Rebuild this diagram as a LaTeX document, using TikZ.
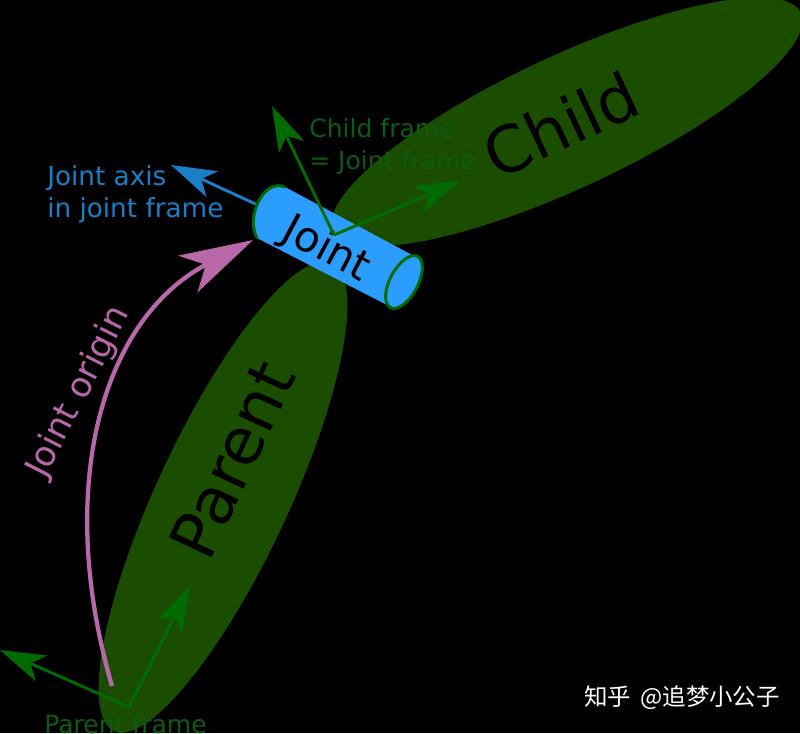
\documentclass[tikz,border=0pt]{standalone}
\usepackage{fontspec}
\setmainfont{DejaVu Sans}
\newfontfamily\cjk{Noto Sans CJK SC}
\usetikzlibrary{arrows.meta}
\definecolor{limb}{HTML}{1A4D00}
\definecolor{frameg}{HTML}{006B00}
\definecolor{labelg}{HTML}{0D5A12}
\definecolor{jointblue}{HTML}{2A9DFF}
\definecolor{axisblue}{HTML}{1A7FC4}
\definecolor{pinkish}{HTML}{B868A8}
\tikzset{
  limbshape/.style={fill=limb,draw=none},
  framearrow/.style={draw=frameg,line width=2.2pt,-{Stealth[length=34pt,width=21pt,inset=9pt]}},
  lbl/.style={inner sep=0pt,font=\fontsize{18.8}{24}\selectfont,align=left,anchor=west},
  big/.style={inner sep=0pt,text=black}
}
\begin{document}
\begin{tikzpicture}[x=0.75pt,y=-0.75pt]
\path[use as bounding box,fill=black] (0,0) rectangle (800,733);
\begin{scope}
\clip (0,0) rectangle (800,733);
\fill[limbshape,rotate around={65:(223,497)}] (223,497) ellipse [x radius=258*0.75pt,y radius=66*0.75pt];
\fill[limbshape,rotate around={25:(567,122)}] (567,122) ellipse [x radius=258*0.75pt,y radius=66*0.75pt];
\end{scope}
% labels under arrows
\node[lbl,text=axisblue,font=\fontsize{19.7}{24}\selectfont] (axislabel) at (47,194) {Joint axis\\in joint frame};
\node[lbl,text=labelg] (childlabel) at (309,146) {Child frame\\= Joint frame};
\node[lbl,text=labelg] (parentlabel) at (44,724) {Parent frame};
\node[big,rotate=25,font=\fontsize{48}{48}\selectfont] (child) at (561,125) {Child};
\node[big,rotate=65,font=\fontsize{48.6}{48.6}\selectfont] (parent) at (232,460) {Parent};
% joint axis
\coordinate (axisstart) at (262,207);
\coordinate (axisend) at (171,165);
\draw[draw=axisblue,line width=2.2pt,-{Stealth[length=34pt,width=21pt,inset=9pt]}] (axisstart) -- (axisend);
% cylinder
\coordinate (ct1) at (285,187);
\coordinate (ct2) at (414,256);
\coordinate (cb2) at (389,306);
\coordinate (cb1) at (257,238);
\fill[jointblue] (ct1) -- (ct2) -- (cb2) -- (cb1) .. controls (245,215) and (265,178) .. (ct1) -- cycle;
\draw[draw=frameg,line width=2.2pt] (cb1) .. controls (245,215) and (265,178) .. (ct1);
\draw[draw=frameg,line width=2.2pt,fill=jointblue,rotate around={62:(404,282)}] (404,282) ellipse [x radius=29*0.75pt,y radius=14*0.75pt];
\node[big,rotate=-28,font=\fontsize{31.5}{32}\selectfont,text=black] (joint) at (326,250) {Joint};
% child frame
\coordinate (corigin) at (334,235);
\coordinate (cx) at (460,181);
\coordinate (cy) at (272,106);
\draw[framearrow] (corigin) -- (cx);
\draw[framearrow] (corigin) -- (cy);
% parent frame
\coordinate (porigin) at (129,707);
\coordinate (px) at (190,586);
\coordinate (py) at (0,650);
\draw[framearrow] (porigin) -- (px);
\draw[framearrow] (porigin) -- (py);
% joint origin
\coordinate (jostart) at (112,686);
\coordinate (joend) at (253,240);
\draw[draw=pinkish,line width=3.2pt,-{Stealth[length=55pt,width=31pt,inset=15pt]}] (jostart) .. controls (55,490) and (100,320) .. (joend);
\node[inner sep=0pt,rotate=63,text=pinkish,font=\fontsize{26}{26}\selectfont] (jolabel) at (79,392) {Joint origin};
\node[inner sep=0pt,text=white,anchor=west,font=\cjk\fontsize{17.6}{20}\selectfont] (wm) at (584,698) {知乎 \,@追梦小公子};
\end{tikzpicture}
\end{document}
